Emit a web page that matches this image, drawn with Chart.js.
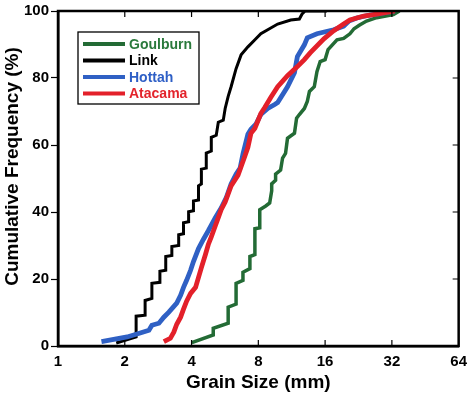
<!DOCTYPE html>
<html lang="en">
<head>
  <meta charset="UTF-8">
  <title>Grain size cumulative frequency</title>
  <script src="https://cdn.jsdelivr.net/npm/chart.js"></script>
  <style>
    body { margin: 0; background: #fff; }
    #wrap { width: 474px; height: 397px; }
  </style>
</head>
<body>
  <div id="wrap"><canvas id="grainChart" width="474" height="397"></canvas></div>

  <script>
    // tick labels
    const xTicks = [1, 2, 4, 8, 16, 32, 64];
    const yTicks = [0, 20, 40, 60, 80, 100];

    // series (grain size in mm, cumulative frequency in %)
    const seriesNames = ['Goulburn', 'Link', 'Hottah', 'Atacama'];

    const goulburnSize = [4.01, 5.01, 5.01, 5.85, 5.85, 6.35, 6.35, 6.82, 6.82, 7.33, 7.33, 7.72, 7.72, 8.12, 8.12, 8.64, 9.0, 9.19, 9.19, 9.57, 9.57, 10.08, 10.29, 10.61, 10.83, 11.64, 11.9, 12.25, 12.9, 13.3, 13.6, 14.3, 14.7, 15.2, 16.0, 16.5, 18.1, 19.4, 20.7, 21.6, 22.9, 24.6, 27.3, 32.5, 34.6];
    const goulburnFreq = [1.0, 3.3, 5.3, 6.8, 11.6, 12.5, 18.7, 19.6, 22, 23.1, 26.7, 27.3, 35, 35.3, 40.7, 41.8, 42.7, 46.3, 48.4, 49.5, 51.3, 52.5, 56.1, 57.5, 62, 63.5, 68, 69.1, 70.9, 73, 76, 77.4, 81.9, 84.9, 85.5, 88.5, 91.4, 91.8, 93.2, 94.7, 95.8, 97.0, 98.0, 98.9, 100];

    const linkSize = [1.83, 2.25, 2.25, 2.47, 2.47, 2.65, 2.65, 2.88, 2.88, 3.06, 3.06, 3.26, 3.26, 3.50, 3.50, 3.68, 3.68, 3.88, 3.88, 4.08, 4.08, 4.30, 4.30, 4.43, 4.43, 4.66, 4.66, 4.91, 4.91, 5.17, 5.28, 5.56, 5.67, 5.85, 6.03, 6.35, 6.69, 7.18, 7.72, 8.21, 8.82, 9.78, 11.2, 12.25, 12.6, 13.0, 16.3];
    const linkFreq = [0.9, 2.7, 8.9, 9.2, 13.6, 14.2, 18.7, 19.0, 22.3, 22.6, 26.7, 27.0, 29.7, 30.0, 33.2, 33.5, 36.8, 37.1, 40.1, 40.4, 43.3, 43.6, 47.8, 48.4, 52.8, 53.1, 57.6, 58.2, 62.3, 62.9, 66.8, 67.4, 70.9, 74.5, 77.4, 82.8, 86.9, 89.3, 91.4, 93.2, 94.4, 96.1, 97.3, 97.6, 99.1, 100, 100];

    const hottahSize = [1.57, 2.05, 2.27, 2.57, 2.65, 2.85, 3.0, 3.16, 3.43, 3.57, 3.68, 3.80, 3.96, 4.08, 4.30, 4.52, 4.76, 5.12, 5.44, 5.73, 6.03, 6.35, 6.62, 6.82, 7.18, 7.41, 7.80, 8.21, 8.82, 9.48, 9.78, 10.83, 11.64, 12.0, 12.9, 13.3, 14.7, 17.5, 19.4, 20.5, 22.2, 25.4, 27.3, 31.2, 33.0];
    const hottahFreq = [1.3, 2.7, 3.6, 4.7, 6.2, 6.8, 8.6, 10.1, 12.8, 15.1, 17.5, 19.6, 22.6, 25.2, 29.1, 31.8, 34.4, 38.3, 41.2, 44.2, 48.4, 51.3, 53.1, 57.3, 63.2, 64.7, 66.2, 69.1, 70.9, 72.1, 72.7, 77.4, 81.6, 86.4, 89.9, 92.0, 93.2, 94.4, 95.5, 97.0, 97.9, 98.8, 99.1, 99.7, 100];

    const atacamaSize = [3.0, 3.21, 3.33, 3.43, 3.57, 3.68, 3.80, 3.96, 4.17, 4.30, 4.43, 4.62, 4.76, 4.91, 5.12, 5.28, 5.44, 5.67, 5.85, 6.03, 6.48, 6.96, 7.18, 7.41, 7.72, 8.21, 8.55, 9.10, 9.78, 10.83, 12.0, 12.9, 13.7, 15.8, 17.5, 19.4, 20.7, 23.9, 27.3, 31.2, 33.0];
    const atacamaFreq = [1.3, 2.3, 4.2, 6.5, 8.6, 11.0, 13.4, 15.7, 17.5, 20.5, 23.4, 27.3, 30.3, 32.6, 35.9, 38.3, 40.7, 43.0, 45.4, 47.8, 51.0, 56.7, 59.3, 63.5, 65.0, 69.4, 71.2, 74.2, 77.4, 80.7, 83.4, 85.5, 87.5, 91.7, 94.1, 96.1, 97.3, 98.5, 99.1, 99.7, 100];

    const lineColors = ['#236b35', '#000000', '#2f60c4', '#e3202a'];
    const textColors = ['#2a7a3c', '#000000', '#2e5fc6', '#e3242c'];
    const lineWidths = [3.5, 3, 4.8, 4.8];

    const toPoints = (xs, ys) => xs.map((x, i) => ({ x: x, y: ys[i] }));
    const allPoints = [
      toPoints(goulburnSize, goulburnFreq),
      toPoints(linkSize, linkFreq),
      toPoints(hottahSize, hottahFreq),
      toPoints(atacamaSize, atacamaFreq)
    ];

    const FONT = 'Liberation Sans, Arial, sans-serif';

    // frame, inward ticks on bottom/top/right, y title and the boxed legend
    const framePlugin = {
      id: 'frame',
      afterDatasetsDraw(chart) {
        const { ctx, chartArea: a, scales } = chart;
        ctx.save();
        ctx.strokeStyle = '#000';
        ctx.lineWidth = 1.2;
        ctx.beginPath();
        xTicks.slice(1, -1).forEach(v => {
          const px = scales.x.getPixelForValue(v);
          ctx.moveTo(px, a.bottom); ctx.lineTo(px, a.bottom - 6);
          ctx.moveTo(px, a.top); ctx.lineTo(px, a.top + 6);
        });
        yTicks.slice(1, -1).forEach(v => {
          const py = scales.y.getPixelForValue(v);
          ctx.moveTo(a.right, py); ctx.lineTo(a.right - 6, py);
        });
        ctx.stroke();
        ctx.lineWidth = 2.5;
        ctx.strokeRect(a.left, a.top, a.right - a.left, a.bottom - a.top);
        ctx.restore();
      },
      afterDraw(chart) {
        const { ctx, chartArea: a } = chart;

        // y axis title, sits a bit above the middle like the original
        ctx.save();
        ctx.translate(13, (a.top + a.bottom) / 2 - 12);
        ctx.rotate(-Math.PI / 2);
        ctx.font = 'bold 19px ' + FONT;
        ctx.fillStyle = '#000';
        ctx.textAlign = 'center';
        ctx.textBaseline = 'middle';
        ctx.fillText('Cumulative Frequency (%)', 0, 0);
        ctx.restore();

        const bx = a.left + 20, by = a.top + 21, bw = 121, bh = 72;
        ctx.save();
        ctx.fillStyle = '#fff';
        ctx.fillRect(bx, by, bw, bh);
        ctx.strokeStyle = '#000';
        ctx.lineWidth = 1.3;
        ctx.strokeRect(bx, by, bw, bh);
        ctx.font = 'bold 14px ' + FONT;
        ctx.textBaseline = 'middle';
        chart.data.datasets.forEach((ds, i) => {
          const ry = by + 12 + i * 16.5;
          ctx.strokeStyle = ds.borderColor;
          ctx.lineWidth = 4;
          ctx.beginPath();
          ctx.moveTo(bx + 5, ry); ctx.lineTo(bx + 47, ry);
          ctx.stroke();
          ctx.fillStyle = textColors[i];
          ctx.fillText(ds.label, bx + 51, ry + 1);
        });
        ctx.restore();
      }
    };

    const ctx = document.getElementById('grainChart').getContext('2d');
    const chart = new Chart(ctx, {
      type: 'line',
      data: {
        datasets: seriesNames.map((name, i) => ({
          label: name,
          data: allPoints[i],
          borderColor: lineColors[i],
          backgroundColor: lineColors[i],
          borderWidth: lineWidths[i],
          pointRadius: 0,
          tension: 0,
          fill: false,
          order: 3 - i
        }))
      },
      options: {
        responsive: false,
        animation: false,
        layout: { padding: { top: 9, right: 11, left: 0, bottom: 0 } },
        plugins: {
          legend: { display: false },
          tooltip: { enabled: false }
        },
        scales: {
          x: {
            type: 'logarithmic',
            min: 1,
            max: 64,
            afterBuildTicks: scale => { scale.ticks = xTicks.map(v => ({ value: v })); },
            afterFit: scale => { scale.height = 51; },
            grid: { drawOnChartArea: false, drawTicks: false },
            border: { display: true, color: '#000', width: 2.5 },
            ticks: {
              autoSkip: false,
              maxRotation: 0,
              padding: 7,
              color: '#000',
              font: { family: FONT, size: 15, weight: 'bold' },
              callback: v => String(v)
            },
            title: {
              display: true,
              text: 'Grain Size (mm)',
              color: '#000',
              font: { family: FONT, size: 19, weight: 'bold' },
              padding: { top: 0, bottom: 3 }
            }
          },
          y: {
            min: 0,
            max: 100,
            afterBuildTicks: scale => { scale.ticks = yTicks.map(v => ({ value: v })); },
            afterFit: scale => { scale.width = 58; },
            grid: { drawOnChartArea: false, tickLength: 7, color: '#000', tickWidth: 1.2 },
            border: { display: true, color: '#000', width: 2.5 },
            ticks: {
              padding: 2,
              color: '#000',
              font: { family: FONT, size: 15, weight: 'bold' }
            }
          }
        }
      },
      plugins: [framePlugin]
    });
  </script>
</body>
</html>
